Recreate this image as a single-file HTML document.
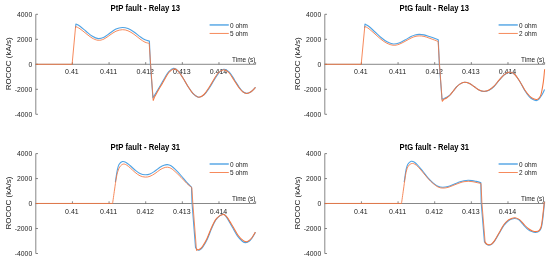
<!DOCTYPE html>
<html><head><meta charset="utf-8"><title>ROCOC</title>
<style>
html,body{margin:0;padding:0;background:#fff}
svg{display:block}
text{font-family:"Liberation Sans",Arial,sans-serif;fill:#222}
.t{font-size:6.8px}
.xt{font-size:7.0px}
.lg{font-size:6.45px}
.yl{font-size:8.0px}
.ti{font-size:8.2px;font-weight:bold;fill:#000}
</style></head><body>
<svg width="550" height="261" viewBox="0 0 550 261">
<rect width="550" height="261" fill="#fff"/>
<path d="M35.8 14.3V114.3M35.8 64.3H255.6" stroke="#555" stroke-width="0.7" fill="none"/>
<path d="M35.8 14.30h2.2M35.8 39.30h2.2M35.8 64.30h2.2M35.8 89.30h2.2M35.8 114.30h2.2M72.43 64.3v-2.2M109.07 64.3v-2.2M145.70 64.3v-2.2M182.33 64.3v-2.2M218.97 64.3v-2.2M255.60 64.3v-2.2" stroke="#555" stroke-width="0.7" fill="none"/>
<text x="32.20" y="16.75" text-anchor="end" class="t">4000</text>
<text x="32.20" y="41.75" text-anchor="end" class="t">2000</text>
<text x="32.20" y="66.75" text-anchor="end" class="t">0</text>
<text x="32.20" y="91.75" text-anchor="end" class="t">-2000</text>
<text x="32.20" y="116.75" text-anchor="end" class="t">-4000</text>
<text x="71.93" y="74.30" text-anchor="middle" class="xt">0.41</text>
<text x="108.57" y="74.30" text-anchor="middle" class="xt">0.411</text>
<text x="145.20" y="74.30" text-anchor="middle" class="xt">0.412</text>
<text x="181.83" y="74.30" text-anchor="middle" class="xt">0.413</text>
<text x="218.47" y="74.30" text-anchor="middle" class="xt">0.414</text>
<text x="255.40" y="62.20" text-anchor="end" class="xt" textLength="23.3" lengthAdjust="spacingAndGlyphs">Time (s)</text>
<text transform="translate(10.90 63.80) rotate(-90)" text-anchor="middle" class="yl">ROCOC (kA/s)</text>
<text x="145.30" y="11.00" text-anchor="middle" class="ti" textLength="69.4" lengthAdjust="spacingAndGlyphs">PtP fault - Relay 13</text>
<g style="isolation:isolate">
<path d="M75.55 28.00 L75.90 24.00 C76.58 24.38 78.32 25.10 80.00 26.30 C81.68 27.50 84.00 29.58 86.00 31.20 C88.00 32.82 89.97 34.77 92.00 36.00 C94.03 37.23 96.20 38.40 98.20 38.60 C100.20 38.80 102.03 38.13 104.00 37.20 C105.97 36.27 108.00 34.37 110.00 33.00 C112.00 31.63 113.93 29.92 116.00 29.00 C118.07 28.08 120.40 27.57 122.40 27.50 C124.40 27.43 126.07 27.85 128.00 28.60 C129.93 29.35 132.00 30.67 134.00 32.00 C136.00 33.33 138.17 35.30 140.00 36.60 C141.83 37.90 143.43 39.05 145.00 39.80 C146.57 40.55 148.67 40.88 149.40 41.10 L150.40 64.30 L152.90 97.60 L153.70 96.60 C154.20 95.77 155.52 93.58 156.70 91.60 C157.88 89.62 159.45 87.02 160.80 84.70 C162.15 82.38 163.47 79.88 164.80 77.70 C166.13 75.52 167.32 73.15 168.80 71.60 C170.28 70.05 172.15 68.53 173.70 68.40 C175.25 68.27 176.55 69.20 178.10 70.80 C179.65 72.40 181.35 75.38 183.00 78.00 C184.65 80.62 186.33 83.92 188.00 86.50 C189.67 89.08 191.22 91.72 193.00 93.50 C194.78 95.28 196.82 97.02 198.70 97.20 C200.58 97.38 202.50 96.18 204.30 94.60 C206.10 93.02 207.88 90.10 209.50 87.70 C211.12 85.30 212.47 82.63 214.00 80.20 C215.53 77.77 217.03 74.92 218.70 73.10 C220.37 71.28 222.23 69.45 224.00 69.30 C225.77 69.15 227.57 70.47 229.30 72.20 C231.03 73.93 232.75 77.18 234.40 79.70 C236.05 82.22 237.77 85.28 239.20 87.30 C240.63 89.32 241.75 90.78 243.00 91.80 C244.25 92.82 245.37 93.40 246.70 93.40 C248.03 93.40 249.53 92.80 251.00 91.80 C252.47 90.80 254.75 88.13 255.50 87.40" stroke="#4fa3e4" stroke-width="1.1" fill="none" stroke-linejoin="round"/>
<path d="M35.80 64.30 L72.10 64.30 L75.60 26.50 C76.33 26.88 78.27 27.63 80.00 28.80 C81.73 29.97 84.00 31.97 86.00 33.50 C88.00 35.03 89.97 36.87 92.00 38.00 C94.03 39.13 96.20 40.13 98.20 40.30 C100.20 40.47 102.03 39.88 104.00 39.00 C105.97 38.12 108.00 36.30 110.00 35.00 C112.00 33.70 113.93 32.08 116.00 31.20 C118.07 30.32 120.40 29.77 122.40 29.70 C124.40 29.63 126.07 30.03 128.00 30.80 C129.93 31.57 132.00 32.93 134.00 34.30 C136.00 35.67 138.17 37.68 140.00 39.00 C141.83 40.32 143.47 41.48 145.00 42.20 C146.53 42.92 148.50 43.12 149.20 43.30 L150.60 64.30 L153.20 100.50" stroke="#f4753f" stroke-width="0.85" fill="none" stroke-linejoin="miter"/>
<path d="M153.20 100.50 L154.30 97.50 C154.80 96.58 156.12 94.08 157.30 92.00 C158.48 89.92 160.05 87.33 161.40 85.00 C162.75 82.67 164.08 80.17 165.40 78.00 C166.72 75.83 167.88 73.52 169.30 72.00 C170.72 70.48 172.45 69.07 173.90 68.90 C175.35 68.73 176.48 69.48 178.00 71.00 C179.52 72.52 181.33 75.42 183.00 78.00 C184.67 80.58 186.33 83.92 188.00 86.50 C189.67 89.08 191.22 91.72 193.00 93.50 C194.78 95.28 196.87 97.03 198.70 97.20 C200.53 97.37 202.28 96.12 204.00 94.50 C205.72 92.88 207.42 89.92 209.00 87.50 C210.58 85.08 211.97 82.42 213.50 80.00 C215.03 77.58 216.50 74.72 218.20 73.00 C219.90 71.28 221.93 69.78 223.70 69.70 C225.47 69.62 227.10 70.78 228.80 72.50 C230.50 74.22 232.23 77.50 233.90 80.00 C235.57 82.50 237.32 85.53 238.80 87.50 C240.28 89.47 241.50 90.82 242.80 91.80 C244.10 92.78 245.23 93.40 246.60 93.40 C247.97 93.40 249.52 92.80 251.00 91.80 C252.48 90.80 254.75 88.13 255.50 87.40" stroke="#f4753f" stroke-width="1.05" fill="none" stroke-linejoin="miter"/>
</g>
<path d="M209.6 24.95h19.2" stroke="#4fa3e4" stroke-width="1.4"/>
<path d="M209.6 33.45h19.2" stroke="#f4753f" stroke-width="0.85"/>
<text x="230.10" y="27.95" class="lg">0 ohm</text>
<text x="230.10" y="36.30" class="lg">5 ohm</text>
<path d="M324.8 14.3V114.3M324.8 64.3H544.6" stroke="#555" stroke-width="0.7" fill="none"/>
<path d="M324.8 14.30h2.2M324.8 39.30h2.2M324.8 64.30h2.2M324.8 89.30h2.2M324.8 114.30h2.2M361.43 64.3v-2.2M398.07 64.3v-2.2M434.70 64.3v-2.2M471.33 64.3v-2.2M507.97 64.3v-2.2M544.60 64.3v-2.2" stroke="#555" stroke-width="0.7" fill="none"/>
<text x="321.20" y="16.75" text-anchor="end" class="t">4000</text>
<text x="321.20" y="41.75" text-anchor="end" class="t">2000</text>
<text x="321.20" y="66.75" text-anchor="end" class="t">0</text>
<text x="321.20" y="91.75" text-anchor="end" class="t">-2000</text>
<text x="321.20" y="116.75" text-anchor="end" class="t">-4000</text>
<text x="360.93" y="74.30" text-anchor="middle" class="xt">0.41</text>
<text x="397.57" y="74.30" text-anchor="middle" class="xt">0.411</text>
<text x="434.20" y="74.30" text-anchor="middle" class="xt">0.412</text>
<text x="470.83" y="74.30" text-anchor="middle" class="xt">0.413</text>
<text x="507.47" y="74.30" text-anchor="middle" class="xt">0.414</text>
<text x="544.40" y="62.20" text-anchor="end" class="xt" textLength="23.3" lengthAdjust="spacingAndGlyphs">Time (s)</text>
<text transform="translate(299.90 63.80) rotate(-90)" text-anchor="middle" class="yl">ROCOC (kA/s)</text>
<text x="434.30" y="11.00" text-anchor="middle" class="ti" textLength="69.4" lengthAdjust="spacingAndGlyphs">PtG fault - Relay 13</text>
<g style="isolation:isolate">
<path d="M364.65 28.00 L365.00 24.00 C365.67 24.42 367.33 25.17 369.00 26.50 C370.67 27.83 373.00 30.17 375.00 32.00 C377.00 33.83 379.00 35.87 381.00 37.50 C383.00 39.13 384.95 40.72 387.00 41.80 C389.05 42.88 391.30 43.80 393.30 44.00 C395.30 44.20 397.05 43.67 399.00 43.00 C400.95 42.33 403.00 41.07 405.00 40.00 C407.00 38.93 409.33 37.43 411.00 36.60 C412.67 35.77 413.65 35.37 415.00 35.00 C416.35 34.63 417.60 34.42 419.10 34.40 C420.60 34.38 422.18 34.50 424.00 34.90 C425.82 35.30 427.62 36.00 430.00 36.80 C432.38 37.60 436.92 39.22 438.30 39.70 L439.30 64.30 L442.00 99.20 L443.50 98.80 C444.03 98.55 445.60 97.95 446.70 97.30 C447.80 96.65 449.00 95.95 450.10 94.90 C451.20 93.85 452.23 92.32 453.30 91.00 C454.37 89.68 455.42 88.15 456.50 87.00 C457.58 85.85 458.48 84.88 459.80 84.10 C461.12 83.32 462.87 82.45 464.40 82.30 C465.93 82.15 467.40 82.50 469.00 83.20 C470.60 83.90 472.33 85.37 474.00 86.50 C475.67 87.63 477.33 89.17 479.00 90.00 C480.67 90.83 482.33 91.45 484.00 91.50 C485.67 91.55 487.33 91.13 489.00 90.30 C490.67 89.47 492.33 88.13 494.00 86.50 C495.67 84.87 497.33 82.42 499.00 80.50 C500.67 78.58 502.18 76.40 504.00 75.00 C505.82 73.60 508.07 72.17 509.90 72.10 C511.73 72.03 513.32 72.98 515.00 74.60 C516.68 76.22 518.40 79.18 520.00 81.80 C521.60 84.42 523.07 87.83 524.60 90.30 C526.13 92.77 527.80 95.05 529.20 96.60 C530.60 98.15 531.83 98.93 533.00 99.60 C534.17 100.27 535.28 100.60 536.20 100.60 C537.12 100.60 537.82 100.17 538.50 99.60 C539.18 99.03 539.60 98.23 540.30 97.20 C541.00 96.17 541.98 94.70 542.70 93.40 C543.42 92.10 544.28 90.07 544.60 89.40" stroke="#4fa3e4" stroke-width="1.1" fill="none" stroke-linejoin="round"/>
<path d="M324.80 64.30 L361.20 64.30 L364.80 26.30 C365.50 26.72 367.30 27.52 369.00 28.80 C370.70 30.08 373.00 32.25 375.00 34.00 C377.00 35.75 379.00 37.75 381.00 39.30 C383.00 40.85 384.95 42.30 387.00 43.30 C389.05 44.30 391.30 45.13 393.30 45.30 C395.30 45.47 397.05 44.95 399.00 44.30 C400.95 43.65 403.00 42.43 405.00 41.40 C407.00 40.37 409.33 38.92 411.00 38.10 C412.67 37.28 413.65 36.87 415.00 36.50 C416.35 36.13 417.60 35.92 419.10 35.90 C420.60 35.88 422.18 35.98 424.00 36.40 C425.82 36.82 427.65 37.57 430.00 38.40 C432.35 39.23 436.75 40.90 438.10 41.40 L439.50 64.30 L442.20 101.40" stroke="#f4753f" stroke-width="0.85" fill="none" stroke-linejoin="miter"/>
<path d="M442.20 101.40 L443.70 99.40 C444.23 99.12 445.83 98.43 446.90 97.70 C447.97 96.97 449.03 96.12 450.10 95.00 C451.17 93.88 452.23 92.33 453.30 91.00 C454.37 89.67 455.42 88.15 456.50 87.00 C457.58 85.85 458.48 84.88 459.80 84.10 C461.12 83.32 462.87 82.45 464.40 82.30 C465.93 82.15 467.40 82.50 469.00 83.20 C470.60 83.90 472.33 85.37 474.00 86.50 C475.67 87.63 477.33 89.20 479.00 90.00 C480.67 90.80 482.33 91.30 484.00 91.30 C485.67 91.30 487.33 90.85 489.00 90.00 C490.67 89.15 492.33 87.83 494.00 86.20 C495.67 84.57 497.33 82.10 499.00 80.20 C500.67 78.30 502.22 76.15 504.00 74.80 C505.78 73.45 507.90 72.15 509.70 72.10 C511.50 72.05 513.12 72.93 514.80 74.50 C516.48 76.07 518.13 78.92 519.80 81.50 C521.47 84.08 523.17 87.58 524.80 90.00 C526.43 92.42 528.15 94.53 529.60 96.00 C531.05 97.47 532.27 98.22 533.50 98.80 C534.73 99.38 536.00 99.72 537.00 99.50 C538.00 99.28 538.82 98.38 539.50 97.50 C540.18 96.62 540.57 96.08 541.10 94.20 C541.63 92.32 542.25 88.88 542.70 86.20 C543.15 83.52 543.48 80.93 543.80 78.10 C544.12 75.27 544.47 70.68 544.60 69.20" stroke="#f4753f" stroke-width="1.05" fill="none" stroke-linejoin="miter"/>
</g>
<path d="M498.6 24.95h19.2" stroke="#4fa3e4" stroke-width="1.4"/>
<path d="M498.6 33.45h19.2" stroke="#f4753f" stroke-width="0.85"/>
<text x="519.10" y="27.95" class="lg">0 ohm</text>
<text x="519.10" y="36.30" class="lg">2 ohm</text>
<path d="M35.8 153.6V253.5M35.8 203.5H255.6" stroke="#555" stroke-width="0.7" fill="none"/>
<path d="M35.8 153.60h2.2M35.8 178.57h2.2M35.8 203.55h2.2M35.8 228.53h2.2M35.8 253.50h2.2M72.43 203.5v-2.2M109.07 203.5v-2.2M145.70 203.5v-2.2M182.33 203.5v-2.2M218.97 203.5v-2.2M255.60 203.5v-2.2" stroke="#555" stroke-width="0.7" fill="none"/>
<text x="32.20" y="156.05" text-anchor="end" class="t">4000</text>
<text x="32.20" y="181.02" text-anchor="end" class="t">2000</text>
<text x="32.20" y="206.00" text-anchor="end" class="t">0</text>
<text x="32.20" y="230.97" text-anchor="end" class="t">-2000</text>
<text x="32.20" y="255.95" text-anchor="end" class="t">-4000</text>
<text x="71.93" y="213.50" text-anchor="middle" class="xt">0.41</text>
<text x="108.57" y="213.50" text-anchor="middle" class="xt">0.411</text>
<text x="145.20" y="213.50" text-anchor="middle" class="xt">0.412</text>
<text x="181.83" y="213.50" text-anchor="middle" class="xt">0.413</text>
<text x="218.47" y="213.50" text-anchor="middle" class="xt">0.414</text>
<text x="255.40" y="201.40" text-anchor="end" class="xt" textLength="23.3" lengthAdjust="spacingAndGlyphs">Time (s)</text>
<text transform="translate(10.90 203.05) rotate(-90)" text-anchor="middle" class="yl">ROCOC (kA/s)</text>
<text x="145.30" y="150.30" text-anchor="middle" class="ti" textLength="69.4" lengthAdjust="spacingAndGlyphs">PtP fault - Relay 31</text>
<g style="isolation:isolate">
<path d="M115.40 182.00 C115.50 181.33 115.68 180.00 116.00 178.00 C116.32 176.00 116.80 172.25 117.30 170.00 C117.80 167.75 118.13 165.92 119.00 164.50 C119.87 163.08 121.33 161.83 122.50 161.50 C123.67 161.17 124.75 161.83 126.00 162.50 C127.25 163.17 128.50 164.25 130.00 165.50 C131.50 166.75 133.33 168.67 135.00 170.00 C136.67 171.33 138.32 172.70 140.00 173.50 C141.68 174.30 143.43 174.72 145.10 174.80 C146.77 174.88 148.35 174.63 150.00 174.00 C151.65 173.37 153.33 172.12 155.00 171.00 C156.67 169.88 158.50 168.27 160.00 167.30 C161.50 166.33 162.77 165.65 164.00 165.20 C165.23 164.75 166.23 164.50 167.40 164.60 C168.57 164.70 169.73 165.03 171.00 165.80 C172.27 166.57 173.33 167.58 175.00 169.20 C176.67 170.82 179.00 173.25 181.00 175.50 C183.00 177.75 185.25 180.77 187.00 182.70 C188.75 184.63 190.75 186.37 191.50 187.10 L192.00 202.80 L195.50 247.50 L195.50 247.50 C195.78 247.85 196.62 249.15 197.20 249.60 C197.78 250.05 198.33 250.33 199.00 250.20 C199.67 250.07 200.50 249.42 201.20 248.80 C201.90 248.18 202.17 248.15 203.20 246.50 C204.23 244.85 206.02 241.85 207.40 238.90 C208.78 235.95 210.13 231.90 211.50 228.80 C212.87 225.70 214.23 222.45 215.60 220.30 C216.97 218.15 218.43 216.90 219.70 215.90 C220.97 214.90 222.27 214.37 223.20 214.30 C224.13 214.23 224.58 214.78 225.30 215.50 C226.02 216.22 226.32 216.63 227.50 218.60 C228.68 220.57 230.75 224.42 232.40 227.30 C234.05 230.18 235.75 233.58 237.40 235.90 C239.05 238.22 240.90 240.08 242.30 241.20 C243.70 242.32 244.60 242.63 245.80 242.60 C247.00 242.57 248.48 241.72 249.50 241.00 C250.52 240.28 250.92 239.75 251.90 238.30 C252.88 236.85 254.82 233.30 255.40 232.30" stroke="#4fa3e4" stroke-width="1.1" fill="none" stroke-linejoin="round"/>
<path d="M35.80 203.45 L112.60 203.45 L112.60 203.45 C112.92 201.21 113.88 194.24 114.50 190.00 C115.12 185.76 115.75 181.08 116.30 178.00 C116.85 174.92 117.22 173.37 117.80 171.50 C118.38 169.63 118.92 168.03 119.80 166.80 C120.68 165.57 121.98 164.40 123.10 164.10 C124.22 163.80 125.30 164.35 126.50 165.00 C127.70 165.65 128.88 166.78 130.30 168.00 C131.72 169.22 133.38 171.00 135.00 172.30 C136.62 173.60 138.28 175.00 140.00 175.80 C141.72 176.60 143.63 177.02 145.30 177.10 C146.97 177.18 148.38 176.90 150.00 176.30 C151.62 175.70 153.33 174.58 155.00 173.50 C156.67 172.42 158.50 170.75 160.00 169.80 C161.50 168.85 162.77 168.23 164.00 167.80 C165.23 167.37 166.23 167.12 167.40 167.20 C168.57 167.28 169.73 167.58 171.00 168.30 C172.27 169.02 173.33 170.00 175.00 171.50 C176.67 173.00 179.00 175.28 181.00 177.30 C183.00 179.32 185.20 181.88 187.00 183.60 C188.80 185.32 191.00 186.93 191.80 187.60 L192.80 202.80 L196.50 250.50" stroke="#f4753f" stroke-width="0.85" fill="none" stroke-linejoin="miter"/>
<path d="M196.50 250.50 L197.00 249.60 C197.30 249.62 198.20 249.88 198.80 249.70 C199.40 249.52 199.97 249.07 200.60 248.50 C201.23 247.93 201.55 247.93 202.60 246.30 C203.65 244.67 205.48 241.67 206.90 238.70 C208.32 235.73 209.70 231.60 211.10 228.50 C212.50 225.40 213.90 222.20 215.30 220.10 C216.70 218.00 218.20 216.85 219.50 215.90 C220.80 214.95 222.08 214.45 223.10 214.40 C224.12 214.35 224.77 214.90 225.60 215.60 C226.43 216.30 226.83 216.68 228.10 218.60 C229.37 220.52 231.52 224.28 233.20 227.10 C234.88 229.92 236.52 233.25 238.20 235.50 C239.88 237.75 241.83 239.57 243.30 240.60 C244.77 241.63 245.60 242.13 247.00 241.70 C248.40 241.27 250.30 239.60 251.70 238.00 C253.10 236.40 254.78 233.08 255.40 232.10" stroke="#f4753f" stroke-width="1.05" fill="none" stroke-linejoin="miter"/>
</g>
<path d="M209.6 164.00h19.2" stroke="#4fa3e4" stroke-width="1.4"/>
<path d="M209.6 172.50h19.2" stroke="#f4753f" stroke-width="0.85"/>
<text x="230.10" y="166.75" class="lg">0 ohm</text>
<text x="230.10" y="175.10" class="lg">5 ohm</text>
<path d="M324.8 153.6V253.5M324.8 203.5H544.6" stroke="#555" stroke-width="0.7" fill="none"/>
<path d="M324.8 153.60h2.2M324.8 178.57h2.2M324.8 203.55h2.2M324.8 228.53h2.2M324.8 253.50h2.2M361.43 203.5v-2.2M398.07 203.5v-2.2M434.70 203.5v-2.2M471.33 203.5v-2.2M507.97 203.5v-2.2M544.60 203.5v-2.2" stroke="#555" stroke-width="0.7" fill="none"/>
<text x="321.20" y="156.05" text-anchor="end" class="t">4000</text>
<text x="321.20" y="181.02" text-anchor="end" class="t">2000</text>
<text x="321.20" y="206.00" text-anchor="end" class="t">0</text>
<text x="321.20" y="230.97" text-anchor="end" class="t">-2000</text>
<text x="321.20" y="255.95" text-anchor="end" class="t">-4000</text>
<text x="360.93" y="213.50" text-anchor="middle" class="xt">0.41</text>
<text x="397.57" y="213.50" text-anchor="middle" class="xt">0.411</text>
<text x="434.20" y="213.50" text-anchor="middle" class="xt">0.412</text>
<text x="470.83" y="213.50" text-anchor="middle" class="xt">0.413</text>
<text x="507.47" y="213.50" text-anchor="middle" class="xt">0.414</text>
<text x="544.40" y="201.40" text-anchor="end" class="xt" textLength="23.3" lengthAdjust="spacingAndGlyphs">Time (s)</text>
<text transform="translate(299.90 203.05) rotate(-90)" text-anchor="middle" class="yl">ROCOC (kA/s)</text>
<text x="434.30" y="150.30" text-anchor="middle" class="ti" textLength="69.4" lengthAdjust="spacingAndGlyphs">PtG fault - Relay 31</text>
<g style="isolation:isolate">
<path d="M404.20 182.00 C404.30 181.33 404.50 180.00 404.80 178.00 C405.10 176.00 405.50 172.28 406.00 170.00 C406.50 167.72 406.93 165.75 407.80 164.30 C408.67 162.85 410.08 161.63 411.20 161.30 C412.32 160.97 413.37 161.60 414.50 162.30 C415.63 163.00 416.58 163.97 418.00 165.50 C419.42 167.03 421.33 169.45 423.00 171.50 C424.67 173.55 426.33 175.92 428.00 177.80 C429.67 179.68 431.33 181.40 433.00 182.80 C434.67 184.20 436.40 185.45 438.00 186.20 C439.60 186.95 440.93 187.25 442.60 187.30 C444.27 187.35 446.10 187.02 448.00 186.50 C449.90 185.98 452.00 184.98 454.00 184.20 C456.00 183.42 458.33 182.38 460.00 181.80 C461.67 181.22 462.63 180.95 464.00 180.70 C465.37 180.45 466.87 180.32 468.20 180.30 C469.53 180.28 470.70 180.42 472.00 180.60 C473.30 180.78 474.53 181.07 476.00 181.40 C477.47 181.73 480.00 182.40 480.80 182.60 L481.20 202.80 L484.40 241.50 L484.40 241.50 C484.70 241.95 485.47 243.58 486.20 244.20 C486.93 244.82 487.90 245.20 488.80 245.20 C489.70 245.20 490.65 244.87 491.60 244.20 C492.55 243.53 493.23 243.02 494.50 241.20 C495.77 239.38 497.63 235.93 499.20 233.30 C500.77 230.67 502.35 227.48 503.90 225.40 C505.45 223.32 507.15 221.87 508.50 220.80 C509.85 219.73 510.95 219.38 512.00 219.00 C513.05 218.62 513.72 218.40 514.80 218.50 C515.88 218.60 517.42 218.97 518.50 219.60 C519.58 220.23 520.33 221.25 521.30 222.30 C522.27 223.35 523.17 224.68 524.30 225.90 C525.43 227.12 526.85 228.65 528.10 229.60 C529.35 230.55 530.55 231.13 531.80 231.60 C533.05 232.07 534.37 232.47 535.60 232.40 C536.83 232.33 538.23 232.05 539.20 231.20 C540.17 230.35 540.80 229.33 541.40 227.30 C542.00 225.27 542.28 223.17 542.80 219.00 C543.32 214.83 544.22 205.08 544.50 202.30" stroke="#4fa3e4" stroke-width="1.1" fill="none" stroke-linejoin="round"/>
<path d="M324.80 203.45 L401.50 203.45 L401.50 203.45 C401.82 201.21 402.80 194.24 403.40 190.00 C404.00 185.76 404.60 181.17 405.10 178.00 C405.60 174.83 405.87 173.00 406.40 171.00 C406.93 169.00 407.40 167.25 408.30 166.00 C409.20 164.75 410.68 163.78 411.80 163.50 C412.92 163.22 413.88 163.67 415.00 164.30 C416.12 164.93 417.10 165.85 418.50 167.30 C419.90 168.75 421.77 171.08 423.40 173.00 C425.03 174.92 426.67 177.03 428.30 178.80 C429.93 180.57 431.58 182.23 433.20 183.60 C434.82 184.97 436.43 186.25 438.00 187.00 C439.57 187.75 440.93 188.03 442.60 188.10 C444.27 188.17 446.10 187.90 448.00 187.40 C449.90 186.90 452.00 185.87 454.00 185.10 C456.00 184.33 458.33 183.37 460.00 182.80 C461.67 182.23 462.63 181.95 464.00 181.70 C465.37 181.45 466.87 181.32 468.20 181.30 C469.53 181.28 470.70 181.42 472.00 181.60 C473.30 181.78 474.50 182.08 476.00 182.40 C477.50 182.72 480.17 183.32 481.00 183.50 L481.90 202.80 L485.20 243.20" stroke="#f4753f" stroke-width="0.85" fill="none" stroke-linejoin="miter"/>
<path d="M485.20 243.20 L485.40 242.50 C485.67 242.80 486.35 243.92 487.00 244.30 C487.65 244.68 488.50 244.88 489.30 244.80 C490.10 244.72 490.95 244.45 491.80 243.80 C492.65 243.15 493.20 242.70 494.40 240.90 C495.60 239.10 497.47 235.65 499.00 233.00 C500.53 230.35 502.07 227.13 503.60 225.00 C505.13 222.87 506.80 221.32 508.20 220.20 C509.60 219.08 510.85 218.70 512.00 218.30 C513.15 217.90 513.85 217.58 515.10 217.80 C516.35 218.02 518.35 218.87 519.50 219.60 C520.65 220.33 521.08 221.22 522.00 222.20 C522.92 223.18 523.85 224.37 525.00 225.50 C526.15 226.63 527.65 228.10 528.90 229.00 C530.15 229.90 531.28 230.47 532.50 230.90 C533.72 231.33 535.07 231.70 536.20 231.60 C537.33 231.50 538.47 231.15 539.30 230.30 C540.13 229.45 540.67 228.55 541.20 226.50 C541.73 224.45 541.98 222.08 542.50 218.00 C543.02 213.92 544.00 204.67 544.30 202.00" stroke="#f4753f" stroke-width="1.05" fill="none" stroke-linejoin="miter"/>
</g>
<path d="M498.6 164.00h19.2" stroke="#4fa3e4" stroke-width="1.4"/>
<path d="M498.6 172.50h19.2" stroke="#f4753f" stroke-width="0.85"/>
<text x="519.10" y="166.75" class="lg">0 ohm</text>
<text x="519.10" y="175.10" class="lg">2 ohm</text>
</svg>
</body></html>
